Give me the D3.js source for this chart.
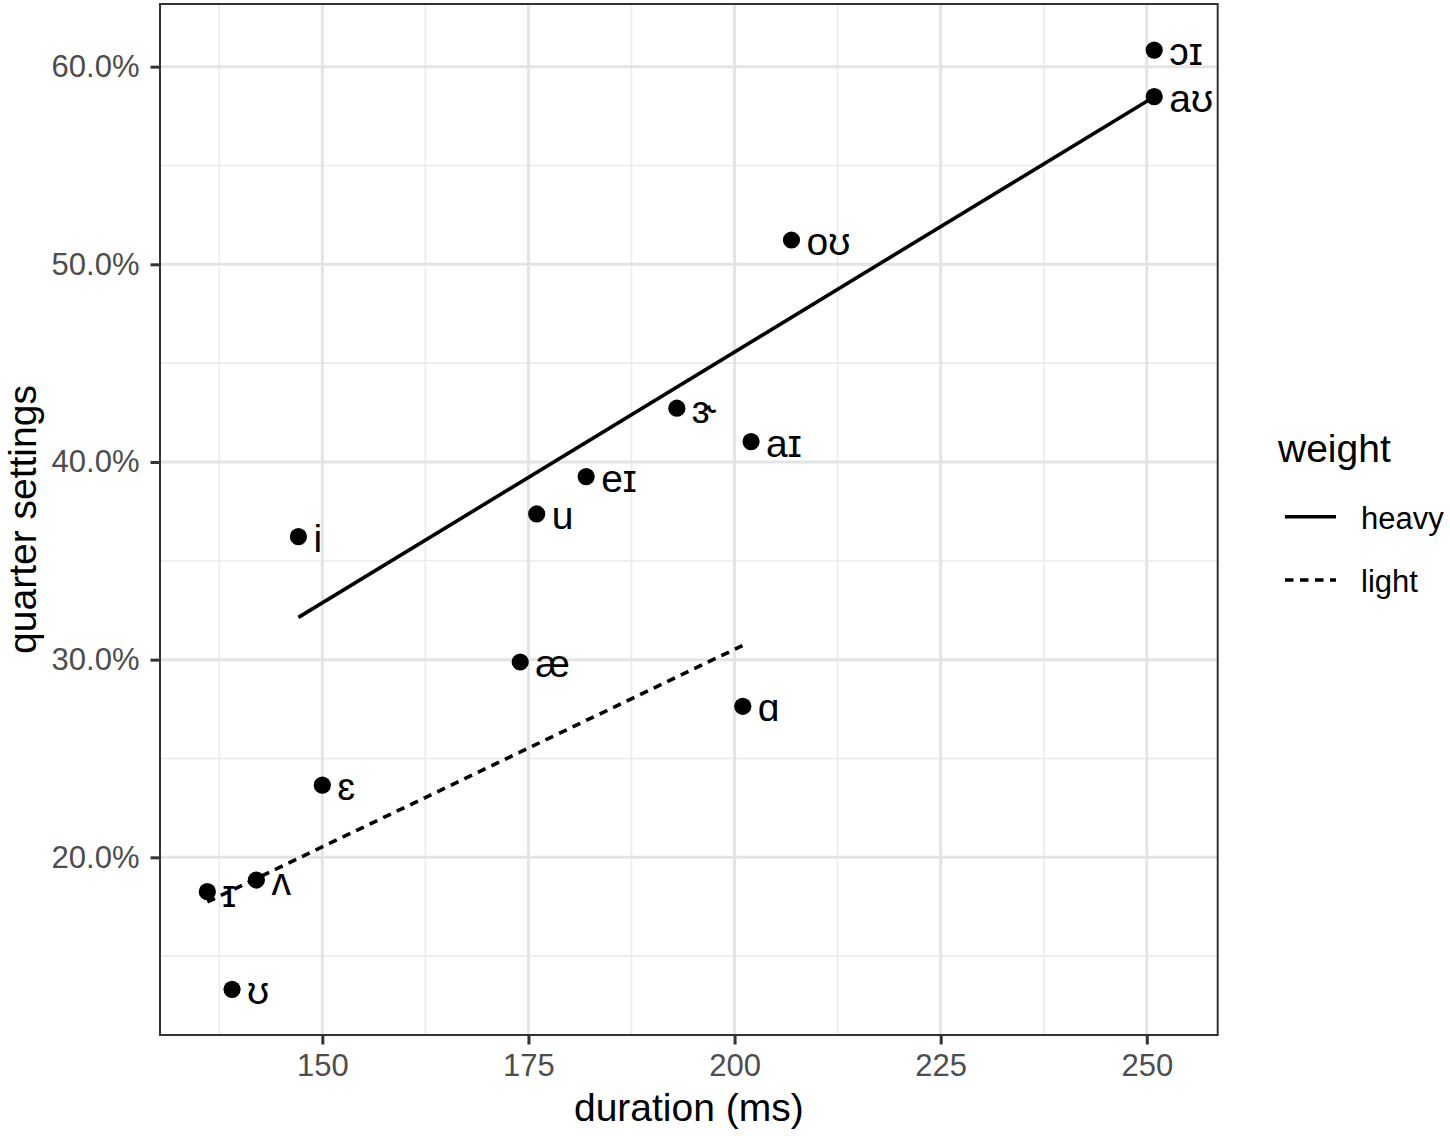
<!DOCTYPE html>
<html>
<head>
<meta charset="utf-8">
<script src="https://d3js.org/d3.v7.min.js"></script>
<style>
  body { margin: 0; background: #fff; }
  text { font-family: "Liberation Sans", Arial, Helvetica, sans-serif; }
</style>
</head>
<body>
<div id="chart"></div>
<script>
// vowel data
var vowels   = ["ɔɪ", "aʊ", "oʊ", "ɝ", "aɪ", "eɪ", "u", "i", "æ", "ɑ", "ɛ", "ʌ", "ɪ", "ʊ"];
var duration = [250.9, 250.9, 206.9, 193.0, 202.0, 182.0, 176.0, 147.1, 174.0, 201.0, 150.0, 142.0, 136.05, 139.05];
var quarter  = [60.84, 58.48, 51.23, 42.72, 41.03, 39.26, 37.37, 36.22, 29.88, 27.64, 23.65, 18.85, 18.26, 13.32];

// fitted lines (end points) per weight group
var weights    = ["heavy", "light"];
var fitDur     = [[147.1, 250.9], [136.05, 200.95]];
var fitQuarter = [[32.14, 58.48], [17.74, 30.71]];

var xTicks = [150, 175, 200, 225, 250];
var xMinor = [137.5, 162.5, 187.5, 212.5, 237.5];
var yTicks = [20, 30, 40, 50, 60];
var yMinor = [15, 25, 35, 45, 55];

var W = 1450, H = 1136;
var panel = {left: 160, right: 1217.7, top: 4, bottom: 1035};

var svg = d3.select("#chart")
  .append("svg")
    .attr("width", W)
    .attr("height", H);

var x = d3.scaleLinear()
  .domain([130.31, 258.6])
  .range([panel.left, panel.right]);

var y = d3.scaleLinear()
  .domain([11.01, 63.17])
  .range([panel.bottom, panel.top]);

var dash = {heavy: null, light: "8.5,6.5"};

// grid
var grid = svg.append("g");
grid.selectAll(".xminor").data(xMinor).enter().append("line")
  .attr("x1", function(d) { return x(d); }).attr("x2", function(d) { return x(d); })
  .attr("y1", panel.top).attr("y2", panel.bottom)
  .attr("stroke", "#ebebeb").attr("stroke-width", 1.6);
grid.selectAll(".yminor").data(yMinor).enter().append("line")
  .attr("y1", function(d) { return y(d); }).attr("y2", function(d) { return y(d); })
  .attr("x1", panel.left).attr("x2", panel.right)
  .attr("stroke", "#ebebeb").attr("stroke-width", 1.6);
grid.selectAll(".xmajor").data(xTicks).enter().append("line")
  .attr("x1", function(d) { return x(d); }).attr("x2", function(d) { return x(d); })
  .attr("y1", panel.top).attr("y2", panel.bottom)
  .attr("stroke", "#e4e4e4").attr("stroke-width", 3);
grid.selectAll(".ymajor").data(yTicks).enter().append("line")
  .attr("y1", function(d) { return y(d); }).attr("y2", function(d) { return y(d); })
  .attr("x1", panel.left).attr("x2", panel.right)
  .attr("stroke", "#e4e4e4").attr("stroke-width", 3);

// regression lines
var fits = weights.map(function(w, i) {
  return {weight: w, pts: [[fitDur[i][0], fitQuarter[i][0]], [fitDur[i][1], fitQuarter[i][1]]]};
});
var line = d3.line()
  .x(function(d) { return x(d[0]); })
  .y(function(d) { return y(d[1]); });

svg.append("g").selectAll("path")
  .data(fits)
  .enter()
  .append("path")
    .attr("d", function(d) { return line(d.pts); })
    .attr("fill", "none")
    .attr("stroke", "#000")
    .attr("stroke-width", 3.6)
    .attr("stroke-dasharray", function(d) { return dash[d.weight]; });

// points + labels
var pts = vowels.map(function(v, i) { return {v: v, d: duration[i], q: quarter[i]}; });

svg.append("g").selectAll("circle")
  .data(pts)
  .enter()
  .append("circle")
    .attr("cx", function(d) { return x(d.d); })
    .attr("cy", function(d) { return y(d.q); })
    .attr("r", 8.6)
    .attr("fill", "#000");

svg.append("g").selectAll("text")
  .data(pts)
  .enter()
  .append("text")
    .attr("x", function(d) { return x(d.d) + 15; })
    .attr("y", function(d) { return y(d.q) + 15; })
    .style("font-size", "39px")
    .attr("fill", "#000")
    .text(function(d) { return d.v; });

// panel border
svg.append("rect")
  .attr("x", panel.left).attr("y", panel.top)
  .attr("width", panel.right - panel.left)
  .attr("height", panel.bottom - panel.top)
  .attr("fill", "none")
  .attr("stroke", "#333")
  .attr("stroke-width", 2);

// X axis
var xAxis = svg.append("g")
  .attr("transform", "translate(0," + panel.bottom + ")")
  .call(d3.axisBottom(x).tickValues(xTicks).tickSize(9.5).tickPadding(9));
xAxis.select(".domain").remove();
xAxis.selectAll(".tick line").attr("stroke", "#333").attr("stroke-width", 3);
xAxis.selectAll(".tick text")
  .attr("fill", "#4d4d4d")
  .attr("font-family", null)
  .style("font-size", "31px");

// Y axis
var yAxis = svg.append("g")
  .attr("transform", "translate(" + panel.left + ",0)")
  .call(d3.axisLeft(y).tickValues(yTicks).tickSize(9.5).tickPadding(11)
    .tickFormat(function(d) { return d3.format(".1f")(d) + "%"; }));
yAxis.select(".domain").remove();
yAxis.selectAll(".tick line").attr("stroke", "#333").attr("stroke-width", 3);
yAxis.selectAll(".tick text")
  .attr("fill", "#4d4d4d")
  .attr("font-family", null)
  .style("font-size", "31px");

// axis titles
svg.append("text")
  .attr("text-anchor", "middle")
  .attr("x", (panel.left + panel.right) / 2)
  .attr("y", 1121)
  .style("font-size", "39px")
  .text("duration (ms)");

svg.append("text")
  .attr("text-anchor", "middle")
  .attr("transform", "translate(36," + (panel.top + panel.bottom) / 2 + ") rotate(-90)")
  .style("font-size", "39px")
  .text("quarter settings");

// legend
var legend = svg.append("g");
legend.append("text")
  .attr("x", 1278)
  .attr("y", 461.5)
  .style("font-size", "39px")
  .text("weight");

var keyY = [516.7, 580];
var textY = [528.5, 591.5];
weights.forEach(function(w, i) {
  legend.append("line")
    .attr("x1", 1285).attr("x2", 1336)
    .attr("y1", keyY[i]).attr("y2", keyY[i])
    .attr("stroke", "#000")
    .attr("stroke-width", 3.4)
    .attr("stroke-dasharray", dash[w]);
  legend.append("text")
    .attr("x", 1361)
    .attr("y", textY[i])
    .style("font-size", "31px")
    .text(w);
});
</script>
</body>
</html>
